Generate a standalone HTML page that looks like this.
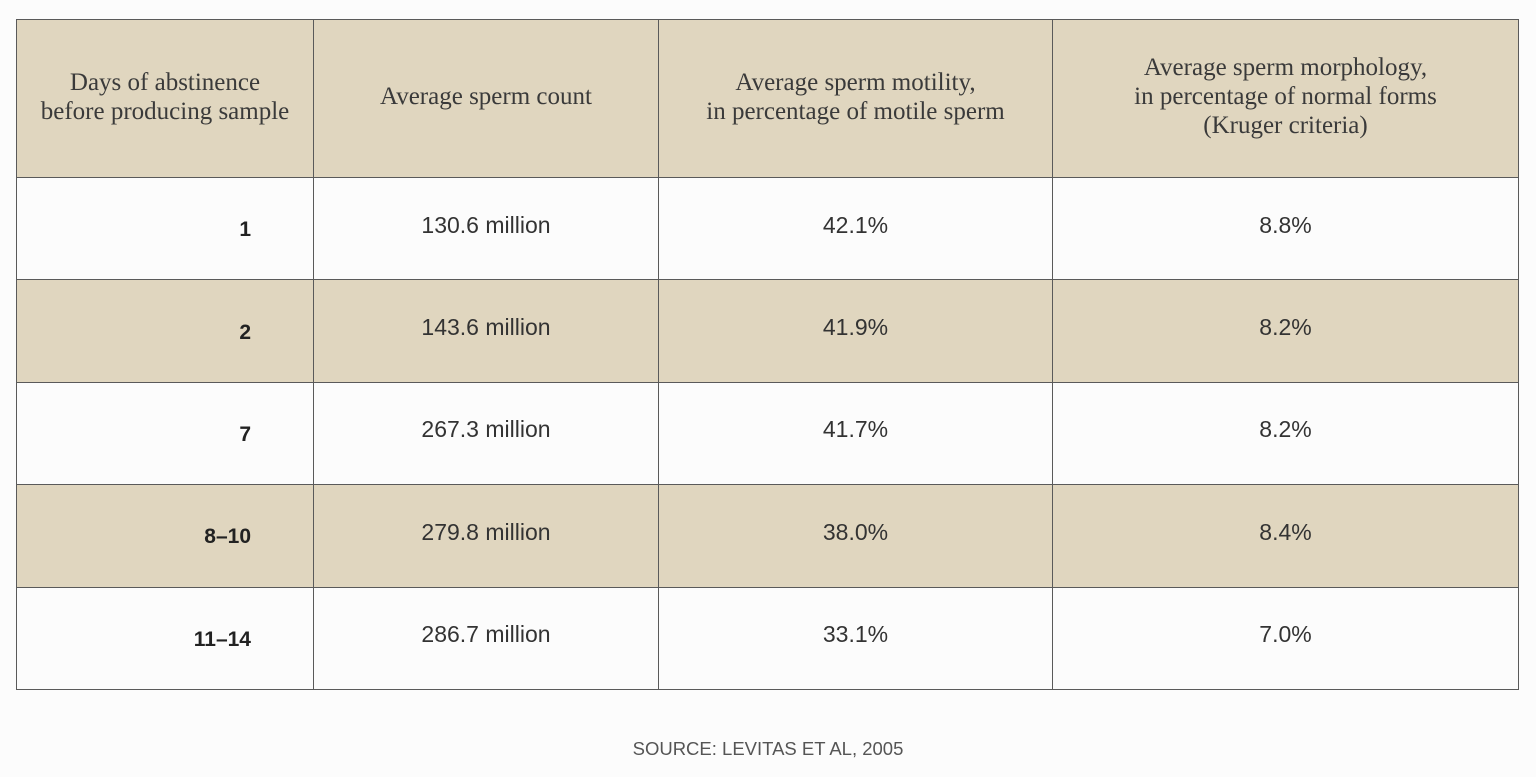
<!DOCTYPE html>
<html><head><style>
html,body{margin:0;padding:0;background:#fcfcfc;width:1536px;height:777px;overflow:hidden}
table{position:absolute;left:16px;top:19px;border-collapse:collapse;table-layout:fixed;width:1502px}
td{border:1.5px solid #5a5a5a;padding:0;text-align:center;color:#333;font-family:"Liberation Sans",sans-serif;font-size:23px;font-weight:300}
tr.h td{background:#e0d6bf;height:158px;font-family:"Liberation Serif",serif;font-size:25px;line-height:29px;color:#3a3a3a;padding-bottom:4px;box-sizing:border-box}
tr.b td{background:#e0d6bf}
tr.r td{height:102.4px;padding-bottom:7px;box-sizing:border-box}
td.n{text-align:right;padding-right:62px;font-weight:bold;font-size:21px;color:#222}
td.n span{position:relative;top:5px}
.src{position:absolute;top:738px;left:0;width:1536px;text-align:center;font-family:"Liberation Sans",sans-serif;font-size:18.5px;color:#555}
</style></head><body>
<table>
<colgroup><col style="width:297px"><col style="width:345px"><col style="width:394px"><col style="width:466px"></colgroup>
<tr class="h"><td>Days of abstinence<br>before producing sample</td><td>Average sperm count</td><td>Average sperm motility,<br>in percentage of motile sperm</td><td>Average sperm morphology,<br>in percentage of normal forms<br>(Kruger criteria)</td></tr>
<tr class="r"><td class="n"><span>1</span></td><td>130.6 million</td><td>42.1%</td><td>8.8%</td></tr>
<tr class="r b"><td class="n"><span>2</span></td><td>143.6 million</td><td>41.9%</td><td>8.2%</td></tr>
<tr class="r"><td class="n"><span>7</span></td><td>267.3 million</td><td>41.7%</td><td>8.2%</td></tr>
<tr class="r b"><td class="n"><span>8–10</span></td><td>279.8 million</td><td>38.0%</td><td>8.4%</td></tr>
<tr class="r"><td class="n"><span>11–14</span></td><td>286.7 million</td><td>33.1%</td><td>7.0%</td></tr>
</table>
<div class="src">SOURCE: LEVITAS ET AL, 2005</div>
</body></html>
